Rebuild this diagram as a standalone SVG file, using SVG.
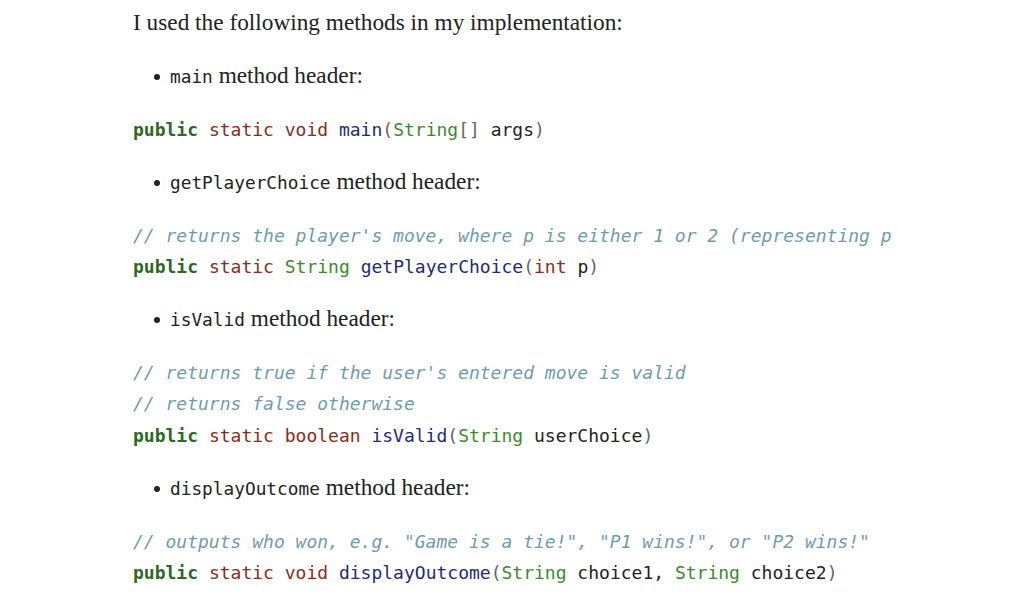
<svg xmlns="http://www.w3.org/2000/svg" width="1024" height="601" viewBox="0 0 1024 601">
<style>
.p{font-family:"Liberation Serif",serif;font-size:23.3px;fill:#222}
.c{font-family:"DejaVu Sans Mono",monospace;font-size:18px;fill:#222;white-space:pre}
.ic{font-family:"DejaVu Sans Mono",monospace;font-size:17.8px;fill:#222}
.k{fill:#2b6a1f;font-weight:bold}
.m{fill:#8b2c18}
.f{fill:#1f2a7a}
.t{fill:#3b8a2c}
.u{fill:#666}
.cm{fill:#6e9bb0;font-style:italic}
</style>
<defs><clipPath id="clip"><rect x="0" y="0" width="893" height="601"/></clipPath></defs>
<rect width="1024" height="601" fill="#fff"/>
<text class="p" x="133" y="30">I used the following methods in my implementation:</text>
<g id="b1"><circle cx="157" cy="77" r="3" fill="#222"/><text class="p" x="170" y="83"><tspan class="ic">main</tspan> method header:</text></g>
<text class="c" x="133" y="136"><tspan class="k">public</tspan> <tspan class="m">static void</tspan> <tspan class="f">main</tspan><tspan class="u">(</tspan><tspan class="t">String</tspan><tspan class="u">[]</tspan> args<tspan class="u">)</tspan></text>
<g id="b2"><circle cx="157" cy="183" r="3" fill="#222"/><text class="p" x="170" y="189"><tspan class="ic">getPlayerChoice</tspan> method header:</text></g>
<text class="c cm" x="133" y="242" clip-path="url(#clip)">// returns the player's move, where p is either 1 or 2 (representing player 1 or 2)</text>
<text class="c" x="133" y="273"><tspan class="k">public</tspan> <tspan class="m">static</tspan> <tspan class="t">String</tspan> <tspan class="f">getPlayerChoice</tspan><tspan class="u">(</tspan><tspan class="m">int</tspan> p<tspan class="u">)</tspan></text>
<g id="b3"><circle cx="157" cy="320" r="3" fill="#222"/><text class="p" x="170" y="326"><tspan class="ic">isValid</tspan> method header:</text></g>
<text class="c cm" x="133" y="379">// returns true if the user's entered move is valid</text>
<text class="c cm" x="133" y="410">// returns false otherwise</text>
<text class="c" x="133" y="442"><tspan class="k">public</tspan> <tspan class="m">static boolean</tspan> <tspan class="f">isValid</tspan><tspan class="u">(</tspan><tspan class="t">String</tspan> userChoice<tspan class="u">)</tspan></text>
<g id="b4"><circle cx="157" cy="489" r="3" fill="#222"/><text class="p" x="170" y="495"><tspan class="ic">displayOutcome</tspan> method header:</text></g>
<text class="c cm" x="133" y="548">// outputs who won, e.g. "Game is a tie!", "P1 wins!", or "P2 wins!"</text>
<text class="c" x="133" y="579"><tspan class="k">public</tspan> <tspan class="m">static void</tspan> <tspan class="f">displayOutcome</tspan><tspan class="u">(</tspan><tspan class="t">String</tspan> choice1, <tspan class="t">String</tspan> choice2<tspan class="u">)</tspan></text>
</svg>
